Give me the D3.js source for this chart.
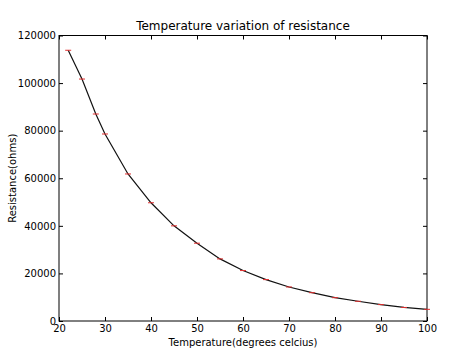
<!DOCTYPE html>
<html><head><meta charset="utf-8">
<script src="https://cdn.jsdelivr.net/npm/d3@7"></script>
<style>body{margin:0;background:#fff}svg{display:block}text{font-family:"DejaVu Sans",sans-serif;fill:#000}</style>
</head><body>
<svg id="c" width="474" height="357"></svg>
<script>
const temps = [22,25,28,30,35,40,45,50,55,60,65,70,75,80,85,90,95,100];
const resistance = [113800,101700,87000,78600,61800,49700,40000,32700,26100,21200,17400,14300,11900,9800,8300,6900,5700,4900];
const errors = [500,500,500,500,500,500,500,500,500,500,500,500,500,500,500,500,500,500];
const xTicks = [20,30,40,50,60,70,80,90,100];
const yTicks = [0,20000,40000,60000,80000,100000,120000];
const title = "Temperature variation of resistance";
const xLabel = "Temperature(degrees celcius)";
const yLabel = "Resistance(ohms)";

const m = {l:59, r:427, t:35.5, b:321};
const svg = d3.select("#c");
const x = d3.scaleLinear().domain([20,100]).range([m.l,m.r]);
const y = d3.scaleLinear().domain([0,120000]).range([m.b,m.t]);
const fs = "10px";

const g = svg.append("g");
const axB = g.append("g").attr("transform",`translate(0,${m.b})`).call(d3.axisBottom(x).tickValues(xTicks).tickSizeInner(-4).tickSizeOuter(0).tickPadding(3.5));
const axT = g.append("g").attr("transform",`translate(0,${m.t})`).call(d3.axisTop(x).tickValues(xTicks).tickSizeInner(-4).tickSizeOuter(0).tickFormat(""));
const axL = g.append("g").attr("transform",`translate(${m.l},0)`).call(d3.axisLeft(y).tickValues(yTicks).tickSizeInner(-4).tickSizeOuter(0).tickPadding(3).tickFormat(d3.format("d")));
const axR = g.append("g").attr("transform",`translate(${m.r},0)`).call(d3.axisRight(y).tickValues(yTicks).tickSizeInner(-4).tickSizeOuter(0).tickFormat(""));
[axB,axT,axL,axR].forEach(a=>{
  a.select(".domain").remove();
  a.selectAll(".tick line").attr("stroke","#000").attr("stroke-width",1);
  a.selectAll("text").attr("font-size",fs).attr("font-family","DejaVu Sans").attr("fill","#000");
});
g.append("rect").attr("x",m.l).attr("y",m.t).attr("width",m.r-m.l).attr("height",m.b-m.t)
 .attr("fill","none").attr("stroke","#000").attr("stroke-width",1);

const data = temps.map((t,i)=>({t, r:resistance[i], e:errors[i]}));
g.append("path").datum(data).attr("fill","none").attr("stroke","#111").attr("stroke-width",1.2)
 .attr("d", d3.line().x(d=>x(d.t)).y(d=>y(d.r)));
const eb = g.append("g").attr("stroke","#e03030").attr("stroke-width",1);
eb.selectAll("line.v").data(data).join("line").attr("class","v")
 .attr("x1",d=>x(d.t)).attr("x2",d=>x(d.t)).attr("y1",d=>y(d.r-d.e)-1).attr("y2",d=>y(d.r+d.e)+1);
eb.selectAll("line.c").data(data).join("line").attr("class","c")
 .attr("x1",d=>x(d.t)-3).attr("x2",d=>x(d.t)+3).attr("y1",d=>y(d.r)).attr("y2",d=>y(d.r));

svg.append("text").attr("x",(m.l+m.r)/2).attr("y",29.5).attr("text-anchor","middle").attr("font-size","12px").text(title);
svg.append("text").attr("x",(m.l+m.r)/2).attr("y",346).attr("text-anchor","middle").attr("font-size","10px").text(xLabel);
svg.append("text").attr("transform",`translate(15.5,${(m.t+m.b)/2}) rotate(-90)`).attr("text-anchor","middle").attr("font-size","10px").text(yLabel);
</script>
</body></html>
